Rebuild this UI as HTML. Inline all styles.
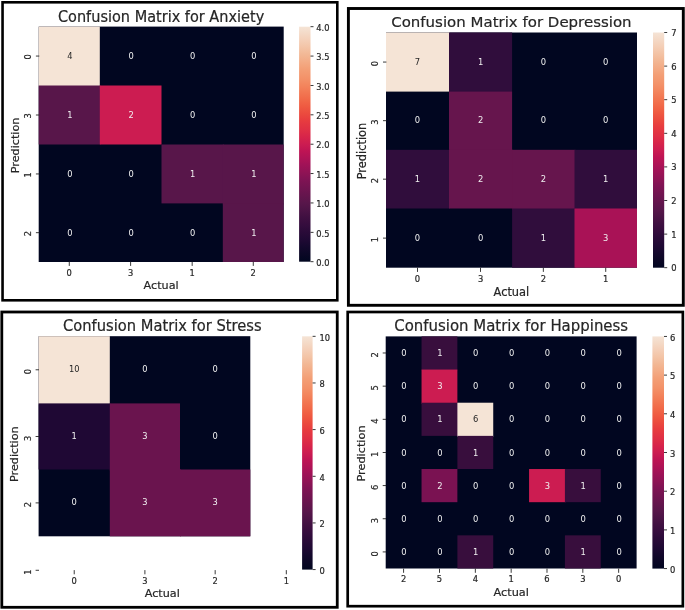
<!DOCTYPE html>
<html><head><meta charset="utf-8"><title>Confusion Matrices</title>
<style>html,body{margin:0;padding:0;background:#fff;}text.k{stroke:#262626;stroke-width:0.2px;}body{width:685px;height:610px;overflow:hidden;}svg{display:block;}</style>
</head><body>
<svg width="685" height="610" viewBox="0 0 685 610" font-family="'DejaVu Sans', 'Liberation Sans', sans-serif">
<defs>
<linearGradient id="rk" x1="0" y1="0" x2="0" y2="1"><stop offset="0" stop-color="#f5e4d6"/><stop offset="0.03" stop-color="#f4d9c6"/><stop offset="0.06" stop-color="#f4ceb6"/><stop offset="0.09" stop-color="#f3c3a5"/><stop offset="0.12" stop-color="#f2b794"/><stop offset="0.15" stop-color="#f3ab85"/><stop offset="0.18" stop-color="#f39f76"/><stop offset="0.22" stop-color="#f39269"/><stop offset="0.25" stop-color="#f3855d"/><stop offset="0.28" stop-color="#f27752"/><stop offset="0.31" stop-color="#f16948"/><stop offset="0.34" stop-color="#ef5a41"/><stop offset="0.37" stop-color="#eb4b3e"/><stop offset="0.4" stop-color="#e73c3f"/><stop offset="0.44" stop-color="#df2f45"/><stop offset="0.47" stop-color="#d7244a"/><stop offset="0.5" stop-color="#cc1c51"/><stop offset="0.53" stop-color="#be1454"/><stop offset="0.56" stop-color="#af1356"/><stop offset="0.59" stop-color="#9f1257"/><stop offset="0.62" stop-color="#901355"/><stop offset="0.65" stop-color="#801354"/><stop offset="0.69" stop-color="#701450"/><stop offset="0.72" stop-color="#64154d"/><stop offset="0.75" stop-color="#58164a"/><stop offset="0.78" stop-color="#4c1446"/><stop offset="0.81" stop-color="#401041"/><stop offset="0.84" stop-color="#360d3e"/><stop offset="0.87" stop-color="#2b0b39"/><stop offset="0.91" stop-color="#1e0933"/><stop offset="0.94" stop-color="#13082c"/><stop offset="0.97" stop-color="#0a0725"/><stop offset="1" stop-color="#010620"/></linearGradient>
</defs>
<rect width="685" height="610" fill="#fff"/>
<g><rect x="38.7" y="26.6" width="245" height="235.4" fill="#010620"/><rect x="38.7" y="26.6" width="61.1" height="59.9" fill="#f5e4d6"/><rect x="38.7" y="85.5" width="62.1" height="59" fill="#58164a"/><rect x="99.8" y="85.5" width="61.7" height="59" fill="#cc1c51"/><rect x="161.5" y="144.5" width="62.3" height="58.9" fill="#58164a"/><rect x="222.8" y="144.5" width="60.9" height="59.9" fill="#58164a"/><rect x="222.8" y="203.4" width="60.9" height="58.6" fill="#58164a"/><text x="69.85" y="59.04" font-size="8.3" fill="#262626" text-anchor="middle">4</text><text x="131.25" y="59.04" font-size="8.3" fill="#f0f0f0" text-anchor="middle">0</text><text x="192.75" y="59.04" font-size="8.3" fill="#f0f0f0" text-anchor="middle">0</text><text x="253.85" y="59.04" font-size="8.3" fill="#f0f0f0" text-anchor="middle">0</text><text x="69.85" y="117.99" font-size="8.3" fill="#f0f0f0" text-anchor="middle">1</text><text x="131.25" y="117.99" font-size="8.3" fill="#f0f0f0" text-anchor="middle">2</text><text x="192.75" y="117.99" font-size="8.3" fill="#f0f0f0" text-anchor="middle">0</text><text x="253.85" y="117.99" font-size="8.3" fill="#f0f0f0" text-anchor="middle">0</text><text x="69.85" y="176.94" font-size="8.3" fill="#f0f0f0" text-anchor="middle">0</text><text x="131.25" y="176.94" font-size="8.3" fill="#f0f0f0" text-anchor="middle">0</text><text x="192.75" y="176.94" font-size="8.3" fill="#f0f0f0" text-anchor="middle">1</text><text x="253.85" y="176.94" font-size="8.3" fill="#f0f0f0" text-anchor="middle">1</text><text x="69.85" y="235.69" font-size="8.3" fill="#f0f0f0" text-anchor="middle">0</text><text x="131.25" y="235.69" font-size="8.3" fill="#f0f0f0" text-anchor="middle">0</text><text x="192.75" y="235.69" font-size="8.3" fill="#f0f0f0" text-anchor="middle">0</text><text x="253.85" y="235.69" font-size="8.3" fill="#f0f0f0" text-anchor="middle">1</text><rect x="68.8" y="261.7" width="0.9" height="4.2" fill="#262626"/><text class="k" x="69.25" y="276.1" font-size="8.3" fill="#262626" text-anchor="middle">0</text><rect x="130.2" y="261.7" width="0.9" height="4.2" fill="#262626"/><text class="k" x="130.65" y="276.1" font-size="8.3" fill="#262626" text-anchor="middle">3</text><rect x="191.7" y="261.7" width="0.9" height="4.2" fill="#262626"/><text class="k" x="192.15" y="276.1" font-size="8.3" fill="#262626" text-anchor="middle">1</text><rect x="252.8" y="261.7" width="0.9" height="4.2" fill="#262626"/><text class="k" x="253.25" y="276.1" font-size="8.3" fill="#262626" text-anchor="middle">2</text><rect x="35.9" y="55.6" width="3.4" height="0.9" fill="#262626"/><text class="k" transform="translate(31.3 56.85) rotate(-90)" font-size="8.3" fill="#262626" text-anchor="middle">0</text><rect x="35.9" y="114.55" width="3.4" height="0.9" fill="#262626"/><text class="k" transform="translate(31.3 115.8) rotate(-90)" font-size="8.3" fill="#262626" text-anchor="middle">3</text><rect x="35.9" y="173.5" width="3.4" height="0.9" fill="#262626"/><text class="k" transform="translate(31.3 174.75) rotate(-90)" font-size="8.3" fill="#262626" text-anchor="middle">1</text><rect x="35.9" y="232.25" width="3.4" height="0.9" fill="#262626"/><text class="k" transform="translate(31.3 233.5) rotate(-90)" font-size="8.3" fill="#262626" text-anchor="middle">2</text><text class="k" x="161.1" y="289.3" font-size="11.2" fill="#262626" text-anchor="middle">Actual</text><text class="k" transform="translate(19.2 145.4) rotate(-90)" font-size="11.2" fill="#262626" text-anchor="middle">Prediction</text><text transform="translate(161.1 21.7) scale(1 1.08)" font-size="14.5" fill="#262626" stroke="#262626" stroke-width="0.2" text-anchor="middle">Confusion Matrix for Anxiety</text><rect x="299.1" y="26.7" width="11.4" height="235" fill="url(#rk)"/><rect x="310.5" y="261.25" width="3.0" height="0.9" fill="#262626"/><text class="k" x="316.3" y="265.93" font-size="8.3" fill="#262626">0.0</text><rect x="310.5" y="231.88" width="3.0" height="0.9" fill="#262626"/><text class="k" x="316.3" y="236.55" font-size="8.3" fill="#262626">0.5</text><rect x="310.5" y="202.5" width="3.0" height="0.9" fill="#262626"/><text class="k" x="316.3" y="207.18" font-size="8.3" fill="#262626">1.0</text><rect x="310.5" y="173.12" width="3.0" height="0.9" fill="#262626"/><text class="k" x="316.3" y="177.8" font-size="8.3" fill="#262626">1.5</text><rect x="310.5" y="143.75" width="3.0" height="0.9" fill="#262626"/><text class="k" x="316.3" y="148.43" font-size="8.3" fill="#262626">2.0</text><rect x="310.5" y="114.37" width="3.0" height="0.9" fill="#262626"/><text class="k" x="316.3" y="119.05" font-size="8.3" fill="#262626">2.5</text><rect x="310.5" y="85" width="3.0" height="0.9" fill="#262626"/><text class="k" x="316.3" y="89.68" font-size="8.3" fill="#262626">3.0</text><rect x="310.5" y="55.62" width="3.0" height="0.9" fill="#262626"/><text class="k" x="316.3" y="60.3" font-size="8.3" fill="#262626">3.5</text><rect x="310.5" y="26.25" width="3.0" height="0.9" fill="#262626"/><text class="k" x="316.3" y="30.93" font-size="8.3" fill="#262626">4.0</text><rect x="2.55" y="2.3" width="334.75" height="298" fill="none" stroke="#000" stroke-width="2.6"/></g>
<g><rect x="386" y="32.5" width="251" height="235.2" fill="#010620"/><rect x="386" y="32.5" width="64" height="59.1" fill="#f5e4d6"/><rect x="449" y="32.5" width="63.1" height="60.1" fill="#300d3c"/><rect x="449" y="91.6" width="63.1" height="59.2" fill="#66154d"/><rect x="386" y="149.8" width="64" height="58.7" fill="#300d3c"/><rect x="449" y="149.8" width="64.1" height="58.7" fill="#66154d"/><rect x="512.1" y="149.8" width="63.4" height="59.7" fill="#66154d"/><rect x="574.5" y="149.8" width="62.5" height="59.7" fill="#300d3c"/><rect x="512.1" y="208.5" width="63.4" height="59.2" fill="#300d3c"/><rect x="574.5" y="208.5" width="62.5" height="59.2" fill="#a91256"/><text x="417.5" y="64.57" font-size="8.4" fill="#262626" text-anchor="middle">7</text><text x="480.55" y="64.57" font-size="8.4" fill="#f0f0f0" text-anchor="middle">1</text><text x="543.3" y="64.57" font-size="8.4" fill="#f0f0f0" text-anchor="middle">0</text><text x="605.75" y="64.57" font-size="8.4" fill="#f0f0f0" text-anchor="middle">0</text><text x="417.5" y="123.22" font-size="8.4" fill="#f0f0f0" text-anchor="middle">0</text><text x="480.55" y="123.22" font-size="8.4" fill="#f0f0f0" text-anchor="middle">2</text><text x="543.3" y="123.22" font-size="8.4" fill="#f0f0f0" text-anchor="middle">0</text><text x="605.75" y="123.22" font-size="8.4" fill="#f0f0f0" text-anchor="middle">0</text><text x="417.5" y="181.67" font-size="8.4" fill="#f0f0f0" text-anchor="middle">1</text><text x="480.55" y="181.67" font-size="8.4" fill="#f0f0f0" text-anchor="middle">2</text><text x="543.3" y="181.67" font-size="8.4" fill="#f0f0f0" text-anchor="middle">2</text><text x="605.75" y="181.67" font-size="8.4" fill="#f0f0f0" text-anchor="middle">1</text><text x="417.5" y="240.62" font-size="8.4" fill="#f0f0f0" text-anchor="middle">0</text><text x="480.55" y="240.62" font-size="8.4" fill="#f0f0f0" text-anchor="middle">0</text><text x="543.3" y="240.62" font-size="8.4" fill="#f0f0f0" text-anchor="middle">1</text><text x="605.75" y="240.62" font-size="8.4" fill="#f0f0f0" text-anchor="middle">3</text><rect x="417.05" y="267.7" width="0.9" height="4.2" fill="#262626"/><text class="k" x="417.5" y="282.1" font-size="8.4" fill="#262626" text-anchor="middle">0</text><rect x="480.1" y="267.7" width="0.9" height="4.2" fill="#262626"/><text class="k" x="480.55" y="282.1" font-size="8.4" fill="#262626" text-anchor="middle">3</text><rect x="542.85" y="267.7" width="0.9" height="4.2" fill="#262626"/><text class="k" x="543.3" y="282.1" font-size="8.4" fill="#262626" text-anchor="middle">2</text><rect x="605.3" y="267.7" width="0.9" height="4.2" fill="#262626"/><text class="k" x="605.75" y="282.1" font-size="8.4" fill="#262626" text-anchor="middle">1</text><rect x="383" y="61.6" width="3.4" height="0.9" fill="#262626"/><text class="k" transform="translate(377.9 63.55) rotate(-90)" font-size="8.4" fill="#262626" text-anchor="middle">0</text><rect x="383" y="120.25" width="3.4" height="0.9" fill="#262626"/><text class="k" transform="translate(377.9 122.2) rotate(-90)" font-size="8.4" fill="#262626" text-anchor="middle">3</text><rect x="383" y="178.7" width="3.4" height="0.9" fill="#262626"/><text class="k" transform="translate(377.9 180.65) rotate(-90)" font-size="8.4" fill="#262626" text-anchor="middle">2</text><rect x="383" y="237.65" width="3.4" height="0.9" fill="#262626"/><text class="k" transform="translate(377.9 239.6) rotate(-90)" font-size="8.4" fill="#262626" text-anchor="middle">1</text><text class="k" x="511.4" y="295.6" font-size="11.4" fill="#262626" text-anchor="middle">Actual</text><text class="k" transform="translate(365.5 151) rotate(-90)" font-size="11.4" fill="#262626" text-anchor="middle">Prediction</text><text transform="translate(511.4 27.4) scale(1 0.97)" font-size="15.0" fill="#262626" stroke="#262626" stroke-width="0.2" text-anchor="middle">Confusion Matrix for Depression</text><rect x="653" y="32.5" width="11.2" height="235.2" fill="url(#rk)"/><rect x="664.2" y="267.25" width="3.0" height="0.9" fill="#262626"/><text class="k" x="671.3" y="271.17" font-size="8.4" fill="#262626">0</text><rect x="664.2" y="233.65" width="3.0" height="0.9" fill="#262626"/><text class="k" x="671.3" y="237.57" font-size="8.4" fill="#262626">1</text><rect x="664.2" y="200.05" width="3.0" height="0.9" fill="#262626"/><text class="k" x="671.3" y="203.97" font-size="8.4" fill="#262626">2</text><rect x="664.2" y="166.45" width="3.0" height="0.9" fill="#262626"/><text class="k" x="671.3" y="170.37" font-size="8.4" fill="#262626">3</text><rect x="664.2" y="132.85" width="3.0" height="0.9" fill="#262626"/><text class="k" x="671.3" y="136.77" font-size="8.4" fill="#262626">4</text><rect x="664.2" y="99.25" width="3.0" height="0.9" fill="#262626"/><text class="k" x="671.3" y="103.17" font-size="8.4" fill="#262626">5</text><rect x="664.2" y="65.65" width="3.0" height="0.9" fill="#262626"/><text class="k" x="671.3" y="69.57" font-size="8.4" fill="#262626">6</text><rect x="664.2" y="32.05" width="3.0" height="0.9" fill="#262626"/><text class="k" x="671.3" y="35.97" font-size="8.4" fill="#262626">7</text><rect x="348.4" y="8.5" width="334.9" height="296.8" fill="none" stroke="#000" stroke-width="2.9"/></g>
<g><rect x="38.6" y="336.2" width="211.7" height="200.1" fill="#010620"/><rect x="38.6" y="336.2" width="71.2" height="68.2" fill="#f5e4d6"/><rect x="38.6" y="403.4" width="72.2" height="66.1" fill="#1f0834"/><rect x="109.8" y="403.4" width="70.2" height="67.1" fill="#6a144e"/><rect x="109.8" y="469.5" width="71.2" height="66.8" fill="#6a144e"/><rect x="180" y="469.5" width="70.3" height="66.8" fill="#6a144e"/><text x="74.2" y="372.29" font-size="8.3" fill="#262626" text-anchor="middle">10</text><text x="144.9" y="372.29" font-size="8.3" fill="#f0f0f0" text-anchor="middle">0</text><text x="215.15" y="372.29" font-size="8.3" fill="#f0f0f0" text-anchor="middle">0</text><text x="74.2" y="438.94" font-size="8.3" fill="#f0f0f0" text-anchor="middle">1</text><text x="144.9" y="438.94" font-size="8.3" fill="#f0f0f0" text-anchor="middle">3</text><text x="215.15" y="438.94" font-size="8.3" fill="#f0f0f0" text-anchor="middle">0</text><text x="74.2" y="505.39" font-size="8.3" fill="#f0f0f0" text-anchor="middle">0</text><text x="144.9" y="505.39" font-size="8.3" fill="#f0f0f0" text-anchor="middle">3</text><text x="215.15" y="505.39" font-size="8.3" fill="#f0f0f0" text-anchor="middle">3</text><rect x="73.75" y="570.1" width="0.9" height="4.2" fill="#262626"/><text class="k" x="74.2" y="583.6" font-size="8.3" fill="#262626" text-anchor="middle">0</text><rect x="144.45" y="570.1" width="0.9" height="4.2" fill="#262626"/><text class="k" x="144.9" y="583.6" font-size="8.3" fill="#262626" text-anchor="middle">3</text><rect x="214.7" y="570.1" width="0.9" height="4.2" fill="#262626"/><text class="k" x="215.15" y="583.6" font-size="8.3" fill="#262626" text-anchor="middle">2</text><rect x="285.83" y="570.1" width="0.9" height="4.2" fill="#262626"/><text class="k" x="286.28" y="583.6" font-size="8.3" fill="#262626" text-anchor="middle">1</text><rect x="35.6" y="369.35" width="3.4" height="0.9" fill="#262626"/><text class="k" transform="translate(30.6 371.6) rotate(-90)" font-size="8.3" fill="#262626" text-anchor="middle">0</text><rect x="35.6" y="436" width="3.4" height="0.9" fill="#262626"/><text class="k" transform="translate(30.6 438.25) rotate(-90)" font-size="8.3" fill="#262626" text-anchor="middle">3</text><rect x="35.6" y="502.45" width="3.4" height="0.9" fill="#262626"/><text class="k" transform="translate(30.6 504.7) rotate(-90)" font-size="8.3" fill="#262626" text-anchor="middle">2</text><rect x="35.6" y="569.8" width="3.4" height="0.9" fill="#262626"/><text class="k" transform="translate(30.6 572.05) rotate(-90)" font-size="8.3" fill="#262626" text-anchor="middle">1</text><text class="k" x="162.3" y="597.1" font-size="11.2" fill="#262626" text-anchor="middle">Actual</text><text class="k" transform="translate(18.3 454.2) rotate(-90)" font-size="11.2" fill="#262626" text-anchor="middle">Prediction</text><text transform="translate(162.3 331.1) scale(1 1.06)" font-size="14.7" fill="#262626" stroke="#262626" stroke-width="0.2" text-anchor="middle">Confusion Matrix for Stress</text><rect x="302.1" y="336.3" width="10.5" height="233.3" fill="url(#rk)"/><rect x="312.6" y="569.15" width="3.0" height="0.9" fill="#262626"/><text class="k" x="319.4" y="573.83" font-size="8.3" fill="#262626">0</text><rect x="312.6" y="522.49" width="3.0" height="0.9" fill="#262626"/><text class="k" x="319.4" y="527.17" font-size="8.3" fill="#262626">2</text><rect x="312.6" y="475.83" width="3.0" height="0.9" fill="#262626"/><text class="k" x="319.4" y="480.51" font-size="8.3" fill="#262626">4</text><rect x="312.6" y="429.17" width="3.0" height="0.9" fill="#262626"/><text class="k" x="319.4" y="433.85" font-size="8.3" fill="#262626">6</text><rect x="312.6" y="382.51" width="3.0" height="0.9" fill="#262626"/><text class="k" x="319.4" y="387.19" font-size="8.3" fill="#262626">8</text><rect x="312.6" y="335.85" width="3.0" height="0.9" fill="#262626"/><text class="k" x="319.4" y="340.53" font-size="8.3" fill="#262626">10</text><rect x="1.8" y="312" width="335.45" height="295.3" fill="none" stroke="#000" stroke-width="2.8"/></g>
<g><rect x="385.7" y="336.4" width="250.9" height="232.1" fill="#010620"/><rect x="421.54" y="336.4" width="35.84" height="34.16" fill="#380e3d"/><rect x="421.54" y="369.56" width="35.84" height="34.16" fill="#cc1c51"/><rect x="421.54" y="402.71" width="36.84" height="33.16" fill="#380e3d"/><rect x="457.39" y="402.71" width="35.84" height="34.16" fill="#f5e4d6"/><rect x="457.39" y="435.87" width="35.84" height="33.16" fill="#380e3d"/><rect x="421.54" y="469.03" width="35.84" height="33.16" fill="#7a1252"/><rect x="529.07" y="469.03" width="36.84" height="33.16" fill="#cc1c51"/><rect x="564.91" y="469.03" width="35.84" height="33.16" fill="#380e3d"/><rect x="457.39" y="535.34" width="35.84" height="33.16" fill="#380e3d"/><rect x="564.91" y="535.34" width="35.84" height="33.16" fill="#380e3d"/><text x="404.02" y="356.1" font-size="8.4" fill="#f0f0f0" text-anchor="middle">0</text><text x="439.86" y="356.1" font-size="8.4" fill="#f0f0f0" text-anchor="middle">1</text><text x="475.71" y="356.1" font-size="8.4" fill="#f0f0f0" text-anchor="middle">0</text><text x="511.55" y="356.1" font-size="8.4" fill="#f0f0f0" text-anchor="middle">0</text><text x="547.39" y="356.1" font-size="8.4" fill="#f0f0f0" text-anchor="middle">0</text><text x="583.24" y="356.1" font-size="8.4" fill="#f0f0f0" text-anchor="middle">0</text><text x="619.08" y="356.1" font-size="8.4" fill="#f0f0f0" text-anchor="middle">0</text><text x="404.02" y="389.26" font-size="8.4" fill="#f0f0f0" text-anchor="middle">0</text><text x="439.86" y="389.26" font-size="8.4" fill="#f0f0f0" text-anchor="middle">3</text><text x="475.71" y="389.26" font-size="8.4" fill="#f0f0f0" text-anchor="middle">0</text><text x="511.55" y="389.26" font-size="8.4" fill="#f0f0f0" text-anchor="middle">0</text><text x="547.39" y="389.26" font-size="8.4" fill="#f0f0f0" text-anchor="middle">0</text><text x="583.24" y="389.26" font-size="8.4" fill="#f0f0f0" text-anchor="middle">0</text><text x="619.08" y="389.26" font-size="8.4" fill="#f0f0f0" text-anchor="middle">0</text><text x="404.02" y="422.41" font-size="8.4" fill="#f0f0f0" text-anchor="middle">0</text><text x="439.86" y="422.41" font-size="8.4" fill="#f0f0f0" text-anchor="middle">1</text><text x="475.71" y="422.41" font-size="8.4" fill="#262626" text-anchor="middle">6</text><text x="511.55" y="422.41" font-size="8.4" fill="#f0f0f0" text-anchor="middle">0</text><text x="547.39" y="422.41" font-size="8.4" fill="#f0f0f0" text-anchor="middle">0</text><text x="583.24" y="422.41" font-size="8.4" fill="#f0f0f0" text-anchor="middle">0</text><text x="619.08" y="422.41" font-size="8.4" fill="#f0f0f0" text-anchor="middle">0</text><text x="404.02" y="455.57" font-size="8.4" fill="#f0f0f0" text-anchor="middle">0</text><text x="439.86" y="455.57" font-size="8.4" fill="#f0f0f0" text-anchor="middle">0</text><text x="475.71" y="455.57" font-size="8.4" fill="#f0f0f0" text-anchor="middle">1</text><text x="511.55" y="455.57" font-size="8.4" fill="#f0f0f0" text-anchor="middle">0</text><text x="547.39" y="455.57" font-size="8.4" fill="#f0f0f0" text-anchor="middle">0</text><text x="583.24" y="455.57" font-size="8.4" fill="#f0f0f0" text-anchor="middle">0</text><text x="619.08" y="455.57" font-size="8.4" fill="#f0f0f0" text-anchor="middle">0</text><text x="404.02" y="488.73" font-size="8.4" fill="#f0f0f0" text-anchor="middle">0</text><text x="439.86" y="488.73" font-size="8.4" fill="#f0f0f0" text-anchor="middle">2</text><text x="475.71" y="488.73" font-size="8.4" fill="#f0f0f0" text-anchor="middle">0</text><text x="511.55" y="488.73" font-size="8.4" fill="#f0f0f0" text-anchor="middle">0</text><text x="547.39" y="488.73" font-size="8.4" fill="#f0f0f0" text-anchor="middle">3</text><text x="583.24" y="488.73" font-size="8.4" fill="#f0f0f0" text-anchor="middle">1</text><text x="619.08" y="488.73" font-size="8.4" fill="#f0f0f0" text-anchor="middle">0</text><text x="404.02" y="521.88" font-size="8.4" fill="#f0f0f0" text-anchor="middle">0</text><text x="439.86" y="521.88" font-size="8.4" fill="#f0f0f0" text-anchor="middle">0</text><text x="475.71" y="521.88" font-size="8.4" fill="#f0f0f0" text-anchor="middle">0</text><text x="511.55" y="521.88" font-size="8.4" fill="#f0f0f0" text-anchor="middle">0</text><text x="547.39" y="521.88" font-size="8.4" fill="#f0f0f0" text-anchor="middle">0</text><text x="583.24" y="521.88" font-size="8.4" fill="#f0f0f0" text-anchor="middle">0</text><text x="619.08" y="521.88" font-size="8.4" fill="#f0f0f0" text-anchor="middle">0</text><text x="404.02" y="555.04" font-size="8.4" fill="#f0f0f0" text-anchor="middle">0</text><text x="439.86" y="555.04" font-size="8.4" fill="#f0f0f0" text-anchor="middle">0</text><text x="475.71" y="555.04" font-size="8.4" fill="#f0f0f0" text-anchor="middle">1</text><text x="511.55" y="555.04" font-size="8.4" fill="#f0f0f0" text-anchor="middle">0</text><text x="547.39" y="555.04" font-size="8.4" fill="#f0f0f0" text-anchor="middle">0</text><text x="583.24" y="555.04" font-size="8.4" fill="#f0f0f0" text-anchor="middle">1</text><text x="619.08" y="555.04" font-size="8.4" fill="#f0f0f0" text-anchor="middle">0</text><rect x="403.17" y="568.6" width="0.9" height="4.2" fill="#262626"/><text class="k" x="403.62" y="582.4" font-size="8.4" fill="#262626" text-anchor="middle">2</text><rect x="439.01" y="568.6" width="0.9" height="4.2" fill="#262626"/><text class="k" x="439.46" y="582.4" font-size="8.4" fill="#262626" text-anchor="middle">5</text><rect x="474.86" y="568.6" width="0.9" height="4.2" fill="#262626"/><text class="k" x="475.31" y="582.4" font-size="8.4" fill="#262626" text-anchor="middle">4</text><rect x="510.7" y="568.6" width="0.9" height="4.2" fill="#262626"/><text class="k" x="511.15" y="582.4" font-size="8.4" fill="#262626" text-anchor="middle">1</text><rect x="546.54" y="568.6" width="0.9" height="4.2" fill="#262626"/><text class="k" x="546.99" y="582.4" font-size="8.4" fill="#262626" text-anchor="middle">6</text><rect x="582.39" y="568.6" width="0.9" height="4.2" fill="#262626"/><text class="k" x="582.84" y="582.4" font-size="8.4" fill="#262626" text-anchor="middle">3</text><rect x="618.23" y="568.6" width="0.9" height="4.2" fill="#262626"/><text class="k" x="618.68" y="582.4" font-size="8.4" fill="#262626" text-anchor="middle">0</text><rect x="382.7" y="352.53" width="3.4" height="0.9" fill="#262626"/><text class="k" transform="translate(377.5 354.78) rotate(-90)" font-size="8.4" fill="#262626" text-anchor="middle">2</text><rect x="382.7" y="385.69" width="3.4" height="0.9" fill="#262626"/><text class="k" transform="translate(377.5 387.94) rotate(-90)" font-size="8.4" fill="#262626" text-anchor="middle">5</text><rect x="382.7" y="418.84" width="3.4" height="0.9" fill="#262626"/><text class="k" transform="translate(377.5 421.09) rotate(-90)" font-size="8.4" fill="#262626" text-anchor="middle">4</text><rect x="382.7" y="452" width="3.4" height="0.9" fill="#262626"/><text class="k" transform="translate(377.5 454.25) rotate(-90)" font-size="8.4" fill="#262626" text-anchor="middle">1</text><rect x="382.7" y="485.16" width="3.4" height="0.9" fill="#262626"/><text class="k" transform="translate(377.5 487.41) rotate(-90)" font-size="8.4" fill="#262626" text-anchor="middle">6</text><rect x="382.7" y="518.31" width="3.4" height="0.9" fill="#262626"/><text class="k" transform="translate(377.5 520.56) rotate(-90)" font-size="8.4" fill="#262626" text-anchor="middle">3</text><rect x="382.7" y="551.47" width="3.4" height="0.9" fill="#262626"/><text class="k" transform="translate(377.5 553.72) rotate(-90)" font-size="8.4" fill="#262626" text-anchor="middle">0</text><text class="k" x="511.2" y="596" font-size="11.3" fill="#262626" text-anchor="middle">Actual</text><text class="k" transform="translate(365.1 453.5) rotate(-90)" font-size="11.3" fill="#262626" text-anchor="middle">Prediction</text><text transform="translate(511.2 331.1) scale(1 1.06)" font-size="14.95" fill="#262626" stroke="#262626" stroke-width="0.2" text-anchor="middle">Confusion Matrix for Happiness</text><rect x="652.4" y="336.4" width="11.6" height="232.2" fill="url(#rk)"/><rect x="664" y="568.15" width="3.0" height="0.9" fill="#262626"/><text class="k" x="670.1" y="572.87" font-size="8.4" fill="#262626">0</text><rect x="664" y="529.45" width="3.0" height="0.9" fill="#262626"/><text class="k" x="670.1" y="534.17" font-size="8.4" fill="#262626">1</text><rect x="664" y="490.75" width="3.0" height="0.9" fill="#262626"/><text class="k" x="670.1" y="495.47" font-size="8.4" fill="#262626">2</text><rect x="664" y="452.05" width="3.0" height="0.9" fill="#262626"/><text class="k" x="670.1" y="456.77" font-size="8.4" fill="#262626">3</text><rect x="664" y="413.35" width="3.0" height="0.9" fill="#262626"/><text class="k" x="670.1" y="418.07" font-size="8.4" fill="#262626">4</text><rect x="664" y="374.65" width="3.0" height="0.9" fill="#262626"/><text class="k" x="670.1" y="379.37" font-size="8.4" fill="#262626">5</text><rect x="664" y="335.95" width="3.0" height="0.9" fill="#262626"/><text class="k" x="670.1" y="340.67" font-size="8.4" fill="#262626">6</text><rect x="347.7" y="312" width="335.15" height="294.2" fill="none" stroke="#000" stroke-width="2.7"/></g>
</svg>
</body></html>
